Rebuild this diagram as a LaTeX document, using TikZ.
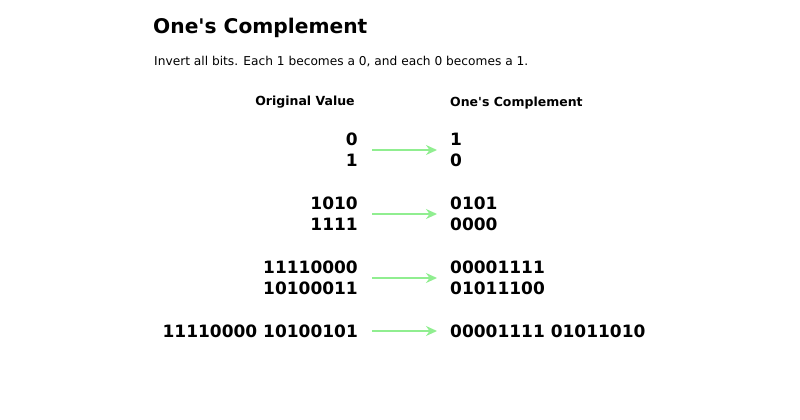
\documentclass[tikz,border=0pt]{standalone}
\usepackage{fontspec}
\setmainfont[Ligatures=NoCommon]{DejaVu Sans}
\usetikzlibrary{arrows.meta}
\definecolor{arrowgreen}{RGB}{144,238,144}
\begin{document}
\begin{tikzpicture}[x=1pt,y=-1pt,
  val/.style={font=\fontsize{17}{21}\selectfont\bfseries,inner sep=0pt},
  lval/.style={val,anchor=east,align=right},
  rval/.style={val,anchor=west,align=left},
  hdr/.style={font=\fontsize{12.5}{14}\selectfont\bfseries,inner sep=0pt},
  flip/.style={draw=arrowgreen,line width=1.5pt,-{Stealth[length=11pt,width=10pt]},
    shorten <=14pt,shorten >=13pt}]
  \useasboundingbox (0,0) rectangle (800,420);
  \node[anchor=base west,inner sep=0pt,font=\fontsize{20.2}{24}\selectfont\bfseries] (title) at (153,34) {One\textquotesingle s Complement};
  \node[anchor=base west,inner sep=0pt,font=\fontsize{12.2}{14}\selectfont] (sub) at (154,66) {Invert all bits. Each 1 becomes a 0, and each 0 becomes a 1.};
  \node[hdr,anchor=base] (hl) at (305,105) {Original Value};
  \node[hdr,anchor=base west] (hr) at (450,106) {One\textquotesingle s Complement};
  % rows
  \node[lval] (l1) at (358,150) {0\\1};
  \node[rval] (r1) at (450,150) {1\\0};
  \node[lval] (l2) at (358,214) {1010\\1111};
  \node[rval] (r2) at (450,214) {0101\\0000};
  \node[lval] (l3) at (358,278) {11110000\\10100011};
  \node[rval] (r3) at (450,278) {00001111\\01011100};
  \node[lval] (l4) at (358,331) {11110000 10100101};
  \node[rval] (r4) at (450,331) {00001111 01011010};
  \foreach \i in {1,...,4}
    \draw[flip] (l\i.east) -- (r\i.west);
\end{tikzpicture}
\end{document}
